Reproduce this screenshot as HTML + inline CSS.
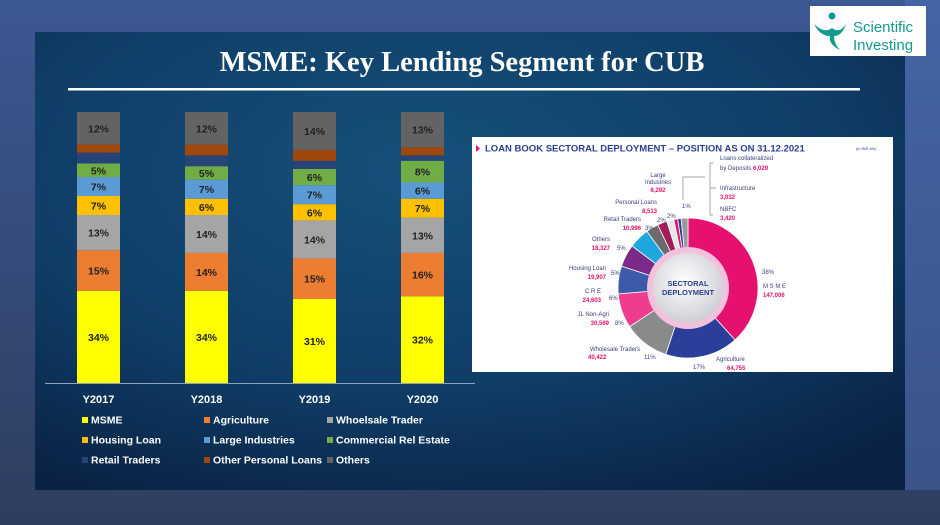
<!DOCTYPE html>
<html><head><meta charset="utf-8">
<style>
html,body{margin:0;padding:0;width:940px;height:525px;overflow:hidden;background:#33456a;}
svg{display:block;font-family:"Liberation Sans",sans-serif;}
</style></head>
<body>
<svg id="s" width="940" height="525" viewBox="0 0 940 525" xmlns="http://www.w3.org/2000/svg">
<defs>
<linearGradient id="bg" x1="0" y1="0" x2="0" y2="1"><stop offset="0" stop-color="#3c5893"/><stop offset="1" stop-color="#2f3e5f"/></linearGradient>
<linearGradient id="strip" x1="0" y1="0" x2="0" y2="1"><stop offset="0" stop-color="#4464a6"/><stop offset="1" stop-color="#3a5488"/></linearGradient>
<radialGradient id="panel" cx="0.45" cy="0.3" r="0.8"><stop offset="0" stop-color="#16507a"/><stop offset="0.6" stop-color="#0f3d66"/><stop offset="1" stop-color="#0a2244"/></radialGradient>
<radialGradient id="hole" cx="0.45" cy="0.4" r="0.6"><stop offset="0" stop-color="#ffffff"/><stop offset="1" stop-color="#cfcfd6"/></radialGradient>
</defs>
<rect width="940" height="525" fill="url(#bg)"/>
<rect x="905" y="0" width="35" height="490" fill="url(#strip)"/>
<rect x="35" y="32" width="870" height="458" fill="url(#panel)"/>
<text x="462" y="71" text-anchor="middle" font-family="Liberation Serif,serif" font-weight="bold" font-size="28.5" fill="#fff">MSME: Key Lending Segment for CUB</text>
<rect x="68" y="88" width="792" height="2.5" fill="#fff"/>
<g>
<rect x="810" y="6" width="116" height="50" fill="#fff"/>
<circle cx="832" cy="16" r="3.5" fill="#139a8e"/>
<path d="M814 24 Q824 34 832 28 Q840 34 846 24 Q842 36 834 36 Q834 44 840 50 Q828 44 830 36 Q820 36 814 24Z" fill="#139a8e"/>
<text x="853" y="32" font-size="15" fill="#139a8e">Scientific</text>
<text x="853" y="50" font-size="15" fill="#139a8e">Investing</text>
</g>
<g id="bars"></g>
<line x1="45" y1="383.5" x2="475" y2="383.5" stroke="#8ea3c0" stroke-width="1"/>
<g id="legend"></g>
<g>
<rect x="472" y="137" width="421" height="235" fill="#fff"/>
<path d="M476 145 L480 148.5 L476 152Z" fill="#e6106e"/>
<text x="485" y="151.5" font-size="9.5" font-weight="bold" fill="#2b3f8f">LOAN BOOK SECTORAL DEPLOYMENT – POSITION AS ON 31.12.2021</text>
<text x="856" y="150" font-size="4" fill="#2b3f8f">(in INR Mn)</text>
<g id="donut"></g>
<circle cx="688" cy="288" r="41" fill="#f3c1dc"/>
<circle cx="688" cy="288" r="35" fill="url(#hole)"/>
<text x="688" y="286" text-anchor="middle" font-size="7.5" font-weight="bold" fill="#2b3f8f">SECTORAL</text>
<text x="688" y="295" text-anchor="middle" font-size="7.5" font-weight="bold" fill="#2b3f8f">DEPLOYMENT</text>
<path d="M713 163 L710 163 L710 215 L713 215 M710 188 L716 188 M705 177 L683 177 L683 200" fill="none" stroke="#888" stroke-width="0.7"/>
<g font-size="6" fill="#3b3f7a">
<text x="720" y="160">Loans collateralized</text>
<text x="720" y="170">by Deposits <tspan fill="#e6106e" font-weight="bold">6,029</tspan></text>
<text x="658" y="177" text-anchor="middle">Large</text>
<text x="658" y="184" text-anchor="middle">Industries</text>
<text x="658" y="192" text-anchor="middle" fill="#e6106e" font-weight="bold">6,292</text>
<text x="720" y="190">Infrastructure</text>
<text x="720" y="199" fill="#e6106e" font-weight="bold">3,032</text>
<text x="657" y="204" text-anchor="end">Personal Loans</text>
<text x="657" y="213" text-anchor="end" fill="#e6106e" font-weight="bold">8,513</text>
<text x="682" y="208">1%</text>
<text x="720" y="211">NBFC</text>
<text x="720" y="220" fill="#e6106e" font-weight="bold">3,420</text>
<text x="641" y="221" text-anchor="end">Retail Traders</text>
<text x="641" y="230" text-anchor="end" fill="#e6106e" font-weight="bold">10,996</text>
<text x="645" y="230">3%</text>
<text x="657" y="222">2%</text><text x="667" y="218">2%</text>
<text x="610" y="241" text-anchor="end">Others</text>
<text x="610" y="250" text-anchor="end" fill="#e6106e" font-weight="bold">18,327</text>
<text x="617" y="250">5%</text>
<text x="606" y="270" text-anchor="end">Housing Loan</text>
<text x="606" y="279" text-anchor="end" fill="#e6106e" font-weight="bold">19,907</text>
<text x="611" y="275">5%</text>
<text x="601" y="293" text-anchor="end">C R E</text>
<text x="601" y="302" text-anchor="end" fill="#e6106e" font-weight="bold">24,603</text>
<text x="609" y="300">6%</text>
<text x="609" y="316" text-anchor="end">JL Non-Agri</text>
<text x="609" y="325" text-anchor="end" fill="#e6106e" font-weight="bold">30,569</text>
<text x="615" y="325">8%</text>
<text x="640" y="351" text-anchor="end">Wholesale Traders</text>
<text x="588" y="359" fill="#e6106e" font-weight="bold">40,422</text>
<text x="644" y="359">11%</text>
<text x="693" y="369">17%</text>
<text x="716" y="361">Agriculture</text>
<text x="727" y="370" fill="#e6106e" font-weight="bold">64,755</text>
<text x="762" y="274">38%</text>
<text x="763" y="288">M S M E</text>
<text x="763" y="297" fill="#e6106e" font-weight="bold">147,006</text>
</g>
</g>
</svg>
<script>
const categories = ["Y2017","Y2018","Y2019","Y2020"];
const seriesNames = ["MSME","Agriculture","Whoelsale Trader","Housing Loan","Large Industries","Commercial Rel Estate","Retail Traders","Other Personal Loans","Others"];
const msme = [34,34,31,32];
const agriculture = [15,14,15,16];
const wholesale = [13,14,14,13];
const housing = [7,6,6,7];
const large = [7,7,7,6];
const cre = [5,5,6,8];
const retail = [4,4,3,2];
const personal = [3,4,4,3];
const others = [12,12,14,13];
const showLabel = [true,true,true,true,true,true,false,false,true];
const colors = ["#ffff00","#ed7d31","#a5a5a5","#ffc000","#5b9bd5","#70ad47","#264478","#9e480e","#636363"];

const pieNames = ["MSME","Agriculture","Wholesale Traders","JL Non-Agri","CRE","Housing Loan","Others","Retail Traders","Personal Loans","Large Industries","NBFC","Infrastructure","Loans collateralized by Deposits"];
const pieValues = [147006,64755,40422,30569,24603,19907,18327,10996,8513,6292,3420,3032,6029];
const pieColors = ["#e6106e","#2b3f9a","#8a8a8a","#ee3d8f","#3d5aa8","#7b2a8a","#1ea7df","#6b6b6b","#a31d5c","#e6e6e6","#e6106e","#2b3f9a","#9a9a9a"];

const NS="http://www.w3.org/2000/svg";
const series=[msme,agriculture,wholesale,housing,large,cre,retail,personal,others];
const baseY=383, plotH=271, barW=43;
const xPos=i=>77+i*108+barW/2;
const yScale=v=>v/100*plotH;
const bars=document.getElementById('bars');
categories.forEach((c,i)=>{
  let acc=0;
  series.forEach((s,k)=>{
    const h=yScale(s[i]); const y=baseY-yScale(acc)-h;
    const r=document.createElementNS(NS,'rect');
    r.setAttribute('x',xPos(i)-barW/2);r.setAttribute('y',y);r.setAttribute('width',barW);r.setAttribute('height',h);r.setAttribute('fill',colors[k]);
    
    
    bars.appendChild(r);
    if(showLabel[k]){
      const t=document.createElementNS(NS,'text');
      t.setAttribute('x',xPos(i));t.setAttribute('y',y+h/2+4);t.setAttribute('text-anchor','middle');
      t.setAttribute('font-size','10.5');t.setAttribute('font-weight','bold');t.setAttribute('fill','#222');
      t.textContent=s[i]+'%';
      
      
      bars.appendChild(t);
    }
    acc+=s[i];
  });
  const l=document.createElementNS(NS,'text');
  l.setAttribute('x',xPos(i));l.setAttribute('y',403);l.setAttribute('text-anchor','middle');
  l.setAttribute('font-size','11');l.setAttribute('font-weight','bold');l.setAttribute('fill','#fff');
  l.textContent=c;
  
  
  bars.appendChild(l);
});
const lg=document.getElementById('legend');
seriesNames.forEach((n,k)=>{
  const col=k%3,row=Math.floor(k/3);
  const x=[82,204,327][col], y=422+row*20;
  const r=document.createElementNS(NS,'rect');
  r.setAttribute('x',x);r.setAttribute('y',y-5);r.setAttribute('width',6);r.setAttribute('height',6);r.setAttribute('fill',colors[k]);
  
  
  lg.appendChild(r);
  const t=document.createElementNS(NS,'text');
  t.setAttribute('x',x+9);t.setAttribute('y',y+1.5);t.setAttribute('font-size','10.5');t.setAttribute('font-weight','bold');t.setAttribute('fill','#fff');
  t.textContent=n;
  
  
  lg.appendChild(t);
});
const dn=document.getElementById('donut');
const cx=688,cy=288,R=70,r0=40;
const tot=pieValues.reduce((a,b)=>a+b,0);
let a0=0;
const pt=(rad,a)=>[cx+rad*Math.sin(a),cy-rad*Math.cos(a)];
pieValues.forEach((v,i)=>{
  const a1=a0+v/tot*2*Math.PI;
  const p1=pt(R,a0),p2=pt(R,a1),p3=pt(r0,a1),p4=pt(r0,a0);
  const lf=(a1-a0)>Math.PI?1:0;
  const p=document.createElementNS(NS,'path');
  p.setAttribute('d',`M${p1} A${R},${R} 0 ${lf} 1 ${p2} L${p3} A${r0},${r0} 0 ${lf} 0 ${p4}Z`);
  p.setAttribute('fill',pieColors[i]);p.setAttribute('stroke','#fff');p.setAttribute('stroke-width','0.8');
  
  
  dn.appendChild(p);
  a0=a1;
});
</script>
</body></html>
